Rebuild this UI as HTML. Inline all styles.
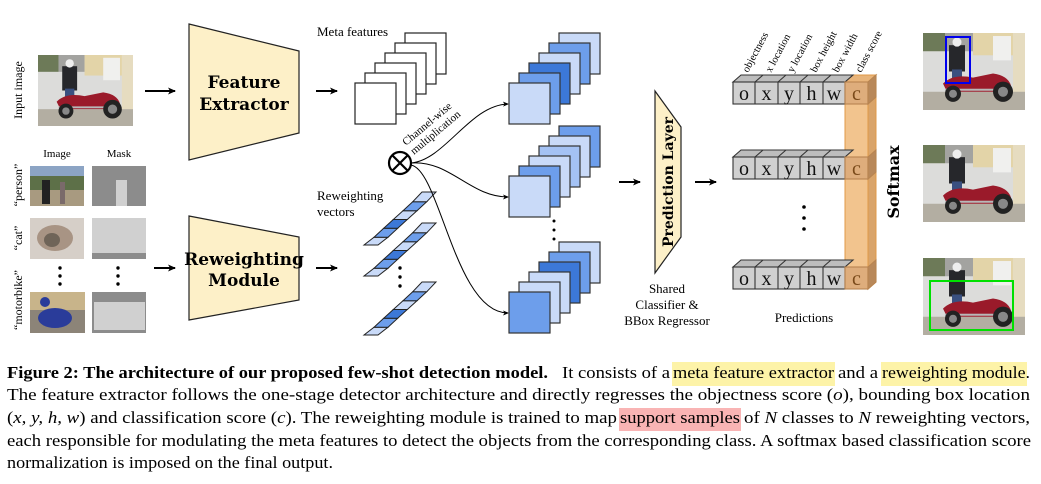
<!DOCTYPE html>
<html><head><meta charset="utf-8"><style>
html,body{margin:0;padding:0;background:#fff}
svg{display:block}
.s{font-family:"Liberation Serif",serif}
.b{font-family:"DejaVu Serif",serif;font-weight:bold}
</style></head><body>
<svg width="1041" height="484" viewBox="0 0 1041 484" xmlns="http://www.w3.org/2000/svg">
<defs>
<marker id="ah" markerWidth="8" markerHeight="8" refX="7" refY="4" orient="auto" markerUnits="userSpaceOnUse"><path d="M0,0.5 L8,4 L0,7.5 L2,4z" fill="#000"/></marker>
<marker id="ah2" markerWidth="6" markerHeight="6" refX="5" refY="3" orient="auto" markerUnits="userSpaceOnUse"><path d="M0,0.5 L6,3 L0,5.5 L1.5,3z" fill="#000"/></marker>
<symbol id="moto" viewBox="0 0 102 76" preserveAspectRatio="none">
<rect width="102" height="76" fill="#dcdcda"/>
<rect x="0" y="0" width="22" height="18" fill="#6d7a58"/>
<rect x="22" y="0" width="28" height="18" fill="#a3a3a0"/>
<rect x="50" y="0" width="52" height="22" fill="#e3d4a8"/>
<rect x="70" y="3" width="18" height="24" fill="#f0f0ee"/>
<rect x="90" y="0" width="12" height="60" fill="#e6dcc0"/>
<rect x="0" y="58" width="102" height="18" fill="#b3aea2"/>
<rect x="26" y="12" width="16" height="26" fill="#26272b"/>
<circle cx="34" cy="9" r="4.5" fill="#eee"/>
<rect x="29" y="36" width="10" height="16" fill="#3a5080"/>
<path d="M20,50 Q30,40 50,44 L70,40 Q85,42 88,52 L84,58 L24,58z" fill="#9a1a2a"/>
<rect x="22" y="55" width="60" height="2" fill="#b8b8b8"/>
<circle cx="30" cy="60" r="8" fill="#222"/><circle cx="80" cy="58" r="10" fill="#222"/>
<circle cx="30" cy="60" r="4" fill="#888"/><circle cx="80" cy="58" r="5" fill="#888"/>
</symbol>
</defs>

<text class="s" font-size="12" transform="translate(22,90) rotate(-90)" text-anchor="middle">Input image</text>
<use href="#moto" x="38" y="55" width="95" height="71"/>
<line x1="145" y1="91" x2="175" y2="91" stroke="#000" stroke-width="2" marker-end="url(#ah)"/>

<polygon points="189,24 299,51 299,133 189,160" fill="#fdf0c8" stroke="#222" stroke-width="1.2"/>
<text class="b" font-size="17" x="244" y="88" text-anchor="middle">Feature</text>
<text class="b" font-size="17" x="244" y="110" text-anchor="middle">Extractor</text>

<text class="s" font-size="11" x="57" y="157" text-anchor="middle">Image</text>
<text class="s" font-size="11" x="119" y="157" text-anchor="middle">Mask</text>
<text class="s" font-size="12" transform="translate(22,185) rotate(-90)" text-anchor="middle">“person”</text>
<text class="s" font-size="12" transform="translate(22,238) rotate(-90)" text-anchor="middle">“cat”</text>
<text class="s" font-size="12" transform="translate(22,300) rotate(-90)" text-anchor="middle">“motorbike”</text>
<rect x="30" y="166" width="54" height="40" fill="#8ca4c4"/>
<rect x="30" y="176" width="54" height="14" fill="#5d7048"/>
<rect x="30" y="190" width="54" height="16" fill="#a89a80"/>
<rect x="42" y="180" width="8" height="24" fill="#222"/><rect x="60" y="182" width="5" height="22" fill="#7a6a6a"/>
<rect x="92" y="166" width="54" height="40" fill="#8c8c8c"/><rect x="116" y="180" width="11" height="26" fill="#d0d0d0"/>
<rect x="30" y="218" width="54" height="41" fill="#d6cfc8"/>
<ellipse cx="55" cy="238" rx="18" ry="13" fill="#a89484"/><ellipse cx="52" cy="240" rx="8" ry="7" fill="#6f6458"/>
<rect x="92" y="218" width="54" height="41" fill="#d0d0d0"/><rect x="92" y="253" width="54" height="6" fill="#8c8c8c"/>
<g fill="#000"><circle cx="60" cy="268" r="1.7"/><circle cx="60" cy="276" r="1.7"/><circle cx="60" cy="284" r="1.7"/>
<circle cx="118" cy="268" r="1.7"/><circle cx="118" cy="276" r="1.7"/><circle cx="118" cy="284" r="1.7"/></g>
<rect x="30" y="292" width="55" height="41" fill="#c8b48a"/>
<rect x="30" y="310" width="55" height="23" fill="#8c8478"/>
<ellipse cx="55" cy="318" rx="17" ry="10" fill="#2a3c9a"/><circle cx="45" cy="302" r="5" fill="#2a3c9a"/>
<rect x="92" y="292" width="54" height="41" fill="#8c8c8c"/><rect x="94" y="302" width="51" height="28" fill="#d0d0d0"/>
<line x1="154" y1="268" x2="175" y2="268" stroke="#000" stroke-width="2" marker-end="url(#ah)"/>

<polygon points="189,216 299,237 299,300 189,320" fill="#fdf0c8" stroke="#222" stroke-width="1.2"/>
<text class="b" font-size="17" x="244" y="265" text-anchor="middle">Reweighting</text>
<text class="b" font-size="17" x="244" y="286" text-anchor="middle">Module</text>

<line x1="316" y1="91" x2="337" y2="91" stroke="#000" stroke-width="2" marker-end="url(#ah)"/>
<line x1="316" y1="268" x2="337" y2="268" stroke="#000" stroke-width="2" marker-end="url(#ah)"/>

<text class="s" font-size="13" x="317" y="36">Meta features</text>
<g fill="#fff" stroke="#222" stroke-width="1.2">
<rect x="405" y="33" width="41" height="41"/><rect x="395" y="43" width="41" height="41"/>
<rect x="385" y="53" width="41" height="41"/><rect x="375" y="63" width="41" height="41"/>
<rect x="365" y="73" width="41" height="41"/><rect x="355" y="83" width="41" height="41"/>
</g>
<text class="s" font-size="11" transform="translate(406,146) rotate(-40)">Channel-wise</text>
<text class="s" font-size="11" transform="translate(414,155) rotate(-40)">multiplication</text>
<circle cx="400" cy="163" r="11" fill="#fff" stroke="#000" stroke-width="2.2"/>
<path d="M392,155 L408,171 M408,155 L392,171" stroke="#000" stroke-width="2.2"/>

<text class="s" font-size="13" x="317" y="200">Reweighting</text>
<text class="s" font-size="13" x="317" y="216">vectors</text>

<g stroke="#222" stroke-width="1">
<g id="vec">
<polygon points="364,245 378,245 388,237.2 374,237.2" fill="#c9daf8"/>
<polygon points="374,237.2 388,237.2 397.7,228.3 383.7,228.3" fill="#6d9eeb"/>
<polygon points="383.7,228.3 397.7,228.3 407.3,219.5 393.3,219.5" fill="#3c78d8"/>
<polygon points="393.3,219.5 407.3,219.5 417,210.7 403,210.7" fill="#c9daf8"/>
<polygon points="403,210.7 417,210.7 426.7,201.8 412.7,201.8" fill="#6d9eeb"/>
<polygon points="412.7,201.8 426.7,201.8 436,192 422,192" fill="#c9daf8"/>
</g>
<use href="#vec" y="31"/>
<use href="#vec" y="90"/>
</g>
<g fill="#000"><circle cx="400" cy="268" r="1.7"/><circle cx="400" cy="277" r="1.7"/><circle cx="400" cy="286" r="1.7"/></g>

<g fill="none" stroke="#000" stroke-width="1">
<path d="M411,163 C445,160 470,105 508,104" marker-end="url(#ah2)"/>
<path d="M411,163 C450,160 470,197 508,197" marker-end="url(#ah2)"/>
<path d="M411,165 C440,170 455,313 508,313" marker-end="url(#ah2)"/>
</g>

<g stroke="#333" stroke-width="1.2">
<rect x="559" y="33" width="41" height="41" fill="#c9daf8"/><rect x="549" y="43" width="41" height="41" fill="#6d9eeb"/>
<rect x="539" y="53" width="41" height="41" fill="#c9daf8"/><rect x="529" y="63" width="41" height="41" fill="#3c78d8"/>
<rect x="519" y="73" width="41" height="41" fill="#6d9eeb"/><rect x="509" y="83" width="41" height="41" fill="#c9daf8"/>
<rect x="559" y="126" width="41" height="41" fill="#6d9eeb"/><rect x="549" y="136" width="41" height="41" fill="#c9daf8"/>
<rect x="539" y="146" width="41" height="41" fill="#a4c2f4"/><rect x="529" y="156" width="41" height="41" fill="#c9daf8"/>
<rect x="519" y="166" width="41" height="41" fill="#6d9eeb"/><rect x="509" y="176" width="41" height="41" fill="#c9daf8"/>
<rect x="559" y="242" width="41" height="41" fill="#c9daf8"/><rect x="549" y="252" width="41" height="41" fill="#6d9eeb"/>
<rect x="539" y="262" width="41" height="41" fill="#3c78d8"/><rect x="529" y="272" width="41" height="41" fill="#c9daf8"/>
<rect x="519" y="282" width="41" height="41" fill="#c9daf8"/><rect x="509" y="292" width="41" height="41" fill="#6d9eeb"/>
</g>
<g fill="#000"><circle cx="554" cy="221" r="1.5"/><circle cx="554" cy="230" r="1.5"/><circle cx="554" cy="239" r="1.5"/></g>

<line x1="619" y1="182" x2="640" y2="182" stroke="#000" stroke-width="2" marker-end="url(#ah)"/>
<polygon points="655,91 681,127 681,237 655,273" fill="#fdf0c8" stroke="#222" stroke-width="1.2"/>
<text class="b" font-size="14" transform="translate(673,182) rotate(-90)" text-anchor="middle">Prediction Layer</text>
<line x1="695" y1="182" x2="716" y2="182" stroke="#000" stroke-width="2" marker-end="url(#ah)"/>
<text class="s" font-size="13" x="667" y="293" text-anchor="middle">Shared</text>
<text class="s" font-size="13" x="667" y="309" text-anchor="middle">Classifier &amp;</text>
<text class="s" font-size="13" x="667" y="325" text-anchor="middle">BBox Regressor</text>

<g class="s" font-size="10.5">
<text transform="translate(748,73) rotate(-62)">objectness</text>
<text transform="translate(771,73) rotate(-62)">x location</text>
<text transform="translate(793,73) rotate(-62)">y location</text>
<text transform="translate(816,73) rotate(-62)">box height</text>
<text transform="translate(838,73) rotate(-62)">box width</text>
<text transform="translate(861,73) rotate(-62)">class score</text>
</g>

<rect x="845" y="82" width="23" height="207" fill="#f2c48e" stroke="#e09a48" stroke-width="1"/>
<polygon points="868,82 876,75 876,282 868,289" fill="#d9a46a" stroke="#e09a48" stroke-width="1"/>
<polygon points="845,82 853,75 876,75 868,82" fill="#e8b47a" stroke="#e09a48" stroke-width="1"/>

<g id="row" stroke="#333" stroke-width="1.1">
<polygon points="733,82 741,75 853,75 845,82" fill="#bdbdbd"/>
<line x1="755" y1="82" x2="763" y2="75"/><line x1="778" y1="82" x2="786" y2="75"/><line x1="800" y1="82" x2="808" y2="75"/><line x1="823" y1="82" x2="831" y2="75"/>
<rect x="733" y="82" width="112" height="22" fill="#d0d0d0"/>
<line x1="755" y1="82" x2="755" y2="104"/><line x1="778" y1="82" x2="778" y2="104"/><line x1="800" y1="82" x2="800" y2="104"/><line x1="823" y1="82" x2="823" y2="104"/>
<rect x="845" y="82" width="23" height="22" fill="#d8a878" stroke="#b88450" fill-opacity="0.8"/>
<polygon points="868,82 876,75 876,97 868,104" fill="#b8885a" stroke="#b88450"/>
<g class="s" font-size="20" stroke="none" text-anchor="middle">
<text x="744" y="100" fill="#111">o</text><text x="766.5" y="100" fill="#111">x</text><text x="789" y="100" fill="#111">y</text><text x="811.5" y="100" fill="#111">h</text><text x="834" y="100" fill="#111">w</text><text x="856.5" y="100" fill="#7a4a1a">c</text>
</g>
</g>
<use href="#row" y="75"/>
<use href="#row" y="185"/>
<g fill="#000"><circle cx="804" cy="207" r="1.8"/><circle cx="804" cy="218" r="1.8"/><circle cx="804" cy="229" r="1.8"/></g>
<text class="s" font-size="13" x="804" y="322" text-anchor="middle">Predictions</text>

<text class="b" font-size="16" transform="translate(899,182) rotate(-90)" text-anchor="middle">Softmax</text>

<use href="#moto" x="923" y="33" width="102" height="77"/>
<rect x="946" y="37" width="24" height="46" fill="none" stroke="#0000ee" stroke-width="2"/>
<use href="#moto" x="923" y="145" width="102" height="77"/>
<use href="#moto" x="923" y="258" width="102" height="77"/>
<rect x="930" y="281" width="83" height="49" fill="none" stroke="#00e000" stroke-width="2"/>

<rect x="672" y="362" width="163" height="24" fill="#fdf3a8"/>
<rect x="881" y="362" width="146" height="24" fill="#fdf3a8"/>
<rect x="619" y="408" width="122" height="23" fill="#f9b4b4"/>
<g class="s" font-size="17">
<text x="7" y="378" font-weight="bold" textLength="541" lengthAdjust="spacingAndGlyphs">Figure 2: The architecture of our proposed few-shot detection model.</text>
<text x="562" y="378" textLength="108" lengthAdjust="spacingAndGlyphs">It consists of a</text>
<text x="673" y="378" textLength="161" lengthAdjust="spacingAndGlyphs">meta feature extractor</text>
<text x="838" y="378" textLength="40" lengthAdjust="spacingAndGlyphs">and a</text>
<text x="882" y="378" textLength="148" lengthAdjust="spacingAndGlyphs">reweighting module.</text>
<text x="7" y="400" textLength="1023" lengthAdjust="spacingAndGlyphs">The feature extractor follows the one-stage detector architecture and directly regresses the objectness score (<tspan font-style="italic">o</tspan>), bounding box location</text>
<text x="7" y="423" textLength="610" lengthAdjust="spacingAndGlyphs">(<tspan font-style="italic">x, y, h, w</tspan>) and classification score (<tspan font-style="italic">c</tspan>). The reweighting module is trained to map</text>
<text x="620" y="423" textLength="120" lengthAdjust="spacingAndGlyphs">support samples</text>
<text x="744" y="423" textLength="286" lengthAdjust="spacingAndGlyphs">of <tspan font-style="italic">N</tspan> classes to <tspan font-style="italic">N</tspan> reweighting vectors,</text>
<text x="7" y="446" textLength="1024" lengthAdjust="spacingAndGlyphs">each responsible for modulating the meta features to detect the objects from the corresponding class. A softmax based classification score</text>
<text x="7" y="468" textLength="326" lengthAdjust="spacingAndGlyphs">normalization is imposed on the final output.</text>
</g>
</svg>
</body></html>
